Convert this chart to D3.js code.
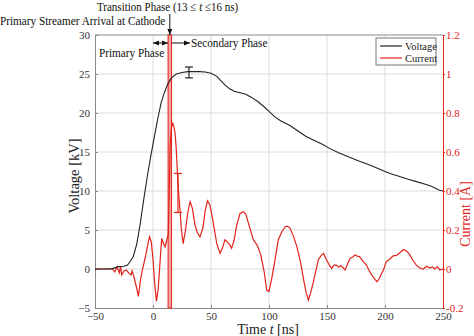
<!DOCTYPE html>
<html><head><meta charset="utf-8">
<script src="https://cdn.jsdelivr.net/npm/d3@7"></script>
<style>body{margin:0;background:#fff}svg{display:block}text{font-family:"Liberation Serif","Times New Roman",serif}</style>
</head><body>
<svg id="c" width="474" height="336"></svg>
<script>
// ---- data ----
const timeTicks = [-50, 0, 50, 100, 150, 200, 250];
const voltTicks = [-5, 0, 5, 10, 15, 20, 25, 30];
const currTicks = [-0.2, 0, 0.2, 0.4, 0.6, 0.8, 1, 1.2];
const voltTime = [-50,-40,-35,-30,-25,-22,-20,-17,-14,-11,-8,-5,-2,1,4,7,10,13,16,20,25,30,35,40,45,50,55,58,62,66,70,75,80,85,90,95,100,105,110,118,125,132,140,146,153,160,170,178,184,192,200,205,212,220,227,234,240,247,250];
const voltage  = [0,0,0.05,0.3,0.35,0.5,0.9,1.6,3.2,5.8,8.9,11.8,14.4,16.8,19.2,21.3,22.7,23.8,24.5,25.0,25.2,25.3,25.3,25.3,25.25,25.1,24.7,24.2,23.6,23.1,22.8,22.6,22.4,22.0,21.5,20.9,20.2,19.5,19.0,18.4,17.7,17.0,16.4,16.0,15.4,14.9,14.3,13.8,13.5,13.0,12.5,12.2,11.9,11.5,11.2,10.9,10.6,10.1,10.0];
const currTime = [-50,-35,-33,-31,-29,-28,-27,-25,-23,-21,
  -19,-18,-16,-14,-12.6,-11,-9,-7,-5,-3,
  -1.5,0,1.5,3,4.5,6,7.5,9,10.5,12,
  13.2,14,14.8,16,17,18,19,20,21,22,
  23.3,24.5,26,28,30,32,34,36,38,40.5,
  43,45,47,49,51,53,55,57.8,60,62,
  64,65.5,67.8,70,72,75,78,80,83,86.5,
  90,93,96,98,100,102,105,108,111,114,
  116,118,121,124,127,130,132,134,136,138,
  140,142.5,145,147,149.7,152,154,156,158,160,
  162,164,165.5,168,170,172,174,176,178,181,
  184,186,188.5,191,193,195,197,199,201,204,
  207,210,213,216,219,221.5,224,227,230,233,
  236,238.5,241,243,245,247.4,250];
const current = [0,0,-0.015,0.01,-0.02,0.015,-0.03,-0.01,-0.005,-0.02,
  -0.03,-0.01,-0.05,-0.1,-0.14,-0.065,0.0,0.05,0.11,0.166,
  0.14,0.05,-0.08,-0.165,-0.1,0.03,0.157,0.13,0.114,0.15,
  0.18,0.4,0.64,0.73,0.747,0.73,0.70,0.62,0.50,0.40,
  0.30,0.2,0.13,0.2,0.29,0.345,0.31,0.23,0.19,0.165,
  0.21,0.3,0.35,0.33,0.27,0.2,0.13,0.08,0.11,0.15,
  0.14,0.13,0.106,0.15,0.22,0.285,0.294,0.28,0.22,0.15,
  0.12,0.07,-0.02,-0.108,-0.116,-0.06,0.04,0.15,0.19,0.217,
  0.22,0.21,0.17,0.115,0.04,-0.06,-0.12,-0.16,-0.12,-0.073,
  -0.02,0.046,0.07,0.08,0.046,0.02,0.003,0.02,0.02,0.01,
  0.018,0.005,-0.005,0.03,0.055,0.06,0.072,0.066,0.064,0.04,
  0.02,-0.005,-0.03,-0.05,-0.065,-0.05,-0.024,0.0,0.037,0.05,
  0.067,0.07,0.085,0.1,0.09,0.072,0.045,0.02,0.005,0.0,
  0.014,0.005,0.01,0.0,0.012,-0.005,0.0];
const transition = [13, 16];
const voltErr = {t: 31, lo: 24.5, hi: 25.9};
const currErr = {t: 21.5, lo: 0.29, hi: 0.49};

// ---- drawing ----
const svg = d3.select("#c");
const red = "#e2231a", axisGray = "#8a8a8a", txt = "#333";
const x = d3.scaleLinear().domain([-50, 250]).range([95, 443]);
const yV = d3.scaleLinear().domain([-5, 30]).range([308, 35]);
const yI = d3.scaleLinear().domain([-0.2, 1.2]).range([308, 35]);

// grid
svg.append("g").selectAll("line").data(timeTicks.slice(1, -1)).join("line")
  .attr("x1", d => x(d)).attr("x2", d => x(d)).attr("y1", 35).attr("y2", 308)
  .attr("stroke", "#dcdcdc").attr("stroke-width", 1);
svg.append("g").selectAll("line").data(voltTicks.slice(1, -1)).join("line")
  .attr("y1", d => yV(d)).attr("y2", d => yV(d)).attr("x1", 95).attr("x2", 443)
  .attr("stroke", "#dcdcdc").attr("stroke-width", 1);

// axes
const gl = svg.append("g").attr("transform", "translate(95,0)")
  .call(d3.axisLeft(yV).tickValues(voltTicks).tickSize(-3).tickPadding(5));
const gb = svg.append("g").attr("transform", "translate(0,308)")
  .call(d3.axisBottom(x).tickValues(timeTicks).tickSize(-3).tickPadding(4));
const gr = svg.append("g").attr("transform", "translate(443,0)")
  .call(d3.axisRight(yI).tickValues(currTicks).tickSize(2).tickPadding(1).tickFormat(d => String(+d.toFixed(1))));
[gl, gb].forEach(g => {
  g.select(".domain").attr("stroke", axisGray);
  g.selectAll(".tick line").attr("stroke", axisGray);
  g.selectAll("text").attr("fill", txt).style("font-size", "11px").style("font-family", "Liberation Serif, serif");
});
gr.select(".domain").attr("stroke", red);
gr.selectAll(".tick line").attr("stroke", red);
gr.selectAll("text").attr("fill", red).style("font-size", "11px").style("font-family", "Liberation Serif, serif");
// top border
svg.append("line").attr("x1", 95).attr("x2", 443).attr("y1", 35).attr("y2", 35).attr("stroke", axisGray);

// transition band
svg.append("rect").attr("x", x(transition[0])).attr("y", 35)
  .attr("width", x(transition[1]) - x(transition[0])).attr("height", 273)
  .attr("fill", "#f4a3a3").attr("stroke", red).attr("stroke-width", 1);

// lines
const lineV = d3.line().x(d => x(d[0])).y(d => yV(d[1]));
const lineI = d3.line().x(d => x(d[0])).y(d => yI(d[1]));
svg.append("path").datum(d3.zip(currTime, current)).attr("d", lineI)
  .attr("fill", "none").attr("stroke", red).attr("stroke-width", 1.2);
svg.append("path").datum(d3.zip(voltTime, voltage)).attr("d", lineV)
  .attr("fill", "none").attr("stroke", "#222").attr("stroke-width", 1.1);

// error bars
function errBar(cx, y1, y2, col) {
  const g = svg.append("g").attr("stroke", col).attr("stroke-width", 1.2);
  g.append("line").attr("x1", cx).attr("x2", cx).attr("y1", y1).attr("y2", y2);
  g.append("line").attr("x1", cx - 4).attr("x2", cx + 4).attr("y1", y1).attr("y2", y1);
  g.append("line").attr("x1", cx - 4).attr("x2", cx + 4).attr("y1", y2).attr("y2", y2);
}
errBar(x(voltErr.t), yV(voltErr.lo), yV(voltErr.hi), "#222");
errBar(x(currErr.t), yI(currErr.lo), yI(currErr.hi), red);

// legend
const lg = svg.append("g");
lg.append("rect").attr("x", 376).attr("y", 38).attr("width", 60).attr("height", 27)
  .attr("fill", "#fff").attr("stroke", "#777");
[["Voltage", "#222", 46], ["Current", red, 58]].forEach(([t, c, yy]) => {
  lg.append("line").attr("x1", 380).attr("x2", 402).attr("y1", yy).attr("y2", yy).attr("stroke", c).attr("stroke-width", 1.2);
  lg.append("text").attr("x", 405).attr("y", yy + 3.5).text(t).attr("fill", "#222").style("font-size", "10.5px");
});

// axis titles
svg.append("text").attr("transform", "translate(79,176) rotate(-90)").attr("text-anchor", "middle")
  .style("font-size", "14.5px").attr("fill", "#222").text("Voltage [kV]");
svg.append("text").attr("transform", "translate(470,214) rotate(-90)").attr("text-anchor", "middle")
  .style("font-size", "14px").attr("fill", red).text("Current [A]");
const tt = svg.append("text").attr("x", 268).attr("y", 334).attr("text-anchor", "middle")
  .style("font-size", "14px").attr("fill", "#222");
tt.append("tspan").text("Time  ");
tt.append("tspan").style("font-style", "italic").text("t");
tt.append("tspan").text(" [ns]");

// annotations
const defs = svg.append("defs");
defs.append("marker").attr("id", "ah").attr("viewBox", "0 0 10 10").attr("refX", 10).attr("refY", 5)
  .attr("markerWidth", 6).attr("markerHeight", 6).attr("orient", "auto-start-reverse")
  .append("path").attr("d", "M0,1 L10,5 L0,9 z").attr("fill", "#111");
const tr = svg.append("text").attr("transform", "translate(97,11) scale(0.88,1)")
  .style("font-size", "12.5px").attr("fill", "#111");
tr.append("tspan").text("Transition Phase (13 ≤ ");
tr.append("tspan").style("font-style", "italic").text("t");
tr.append("tspan").text(" ≤16 ns)");
svg.append("text").attr("transform", "translate(0,24.5) scale(0.9,1)").style("font-size", "12.5px").attr("fill", "#111")
  .text("Primary Streamer Arrival at Cathode");
svg.append("text").attr("transform", "translate(99,57) scale(0.9,1)").style("font-size", "12.5px").attr("fill", "#111")
  .text("Primary Phase");
svg.append("text").attr("transform", "translate(191,47) scale(0.9,1)").style("font-size", "12.5px").attr("fill", "#111")
  .text("Secondary Phase");
const bandMid = (x(transition[0]) + x(transition[1])) / 2;
svg.append("line").attr("x1", bandMid).attr("x2", bandMid).attr("y1", 14).attr("y2", 35)
  .attr("stroke", "#111").attr("stroke-width", 1).attr("marker-end", "url(#ah)");
svg.append("line").attr("x1", 153).attr("x2", x(transition[0])).attr("y1", 43).attr("y2", 43)
  .attr("stroke", "#111").attr("marker-start", "url(#ah)").attr("marker-end", "url(#ah)");
svg.append("line").attr("x1", x(transition[1])).attr("x2", 190).attr("y1", 43).attr("y2", 43)
  .attr("stroke", "#111").attr("marker-end", "url(#ah)");
</script>
</body></html>
